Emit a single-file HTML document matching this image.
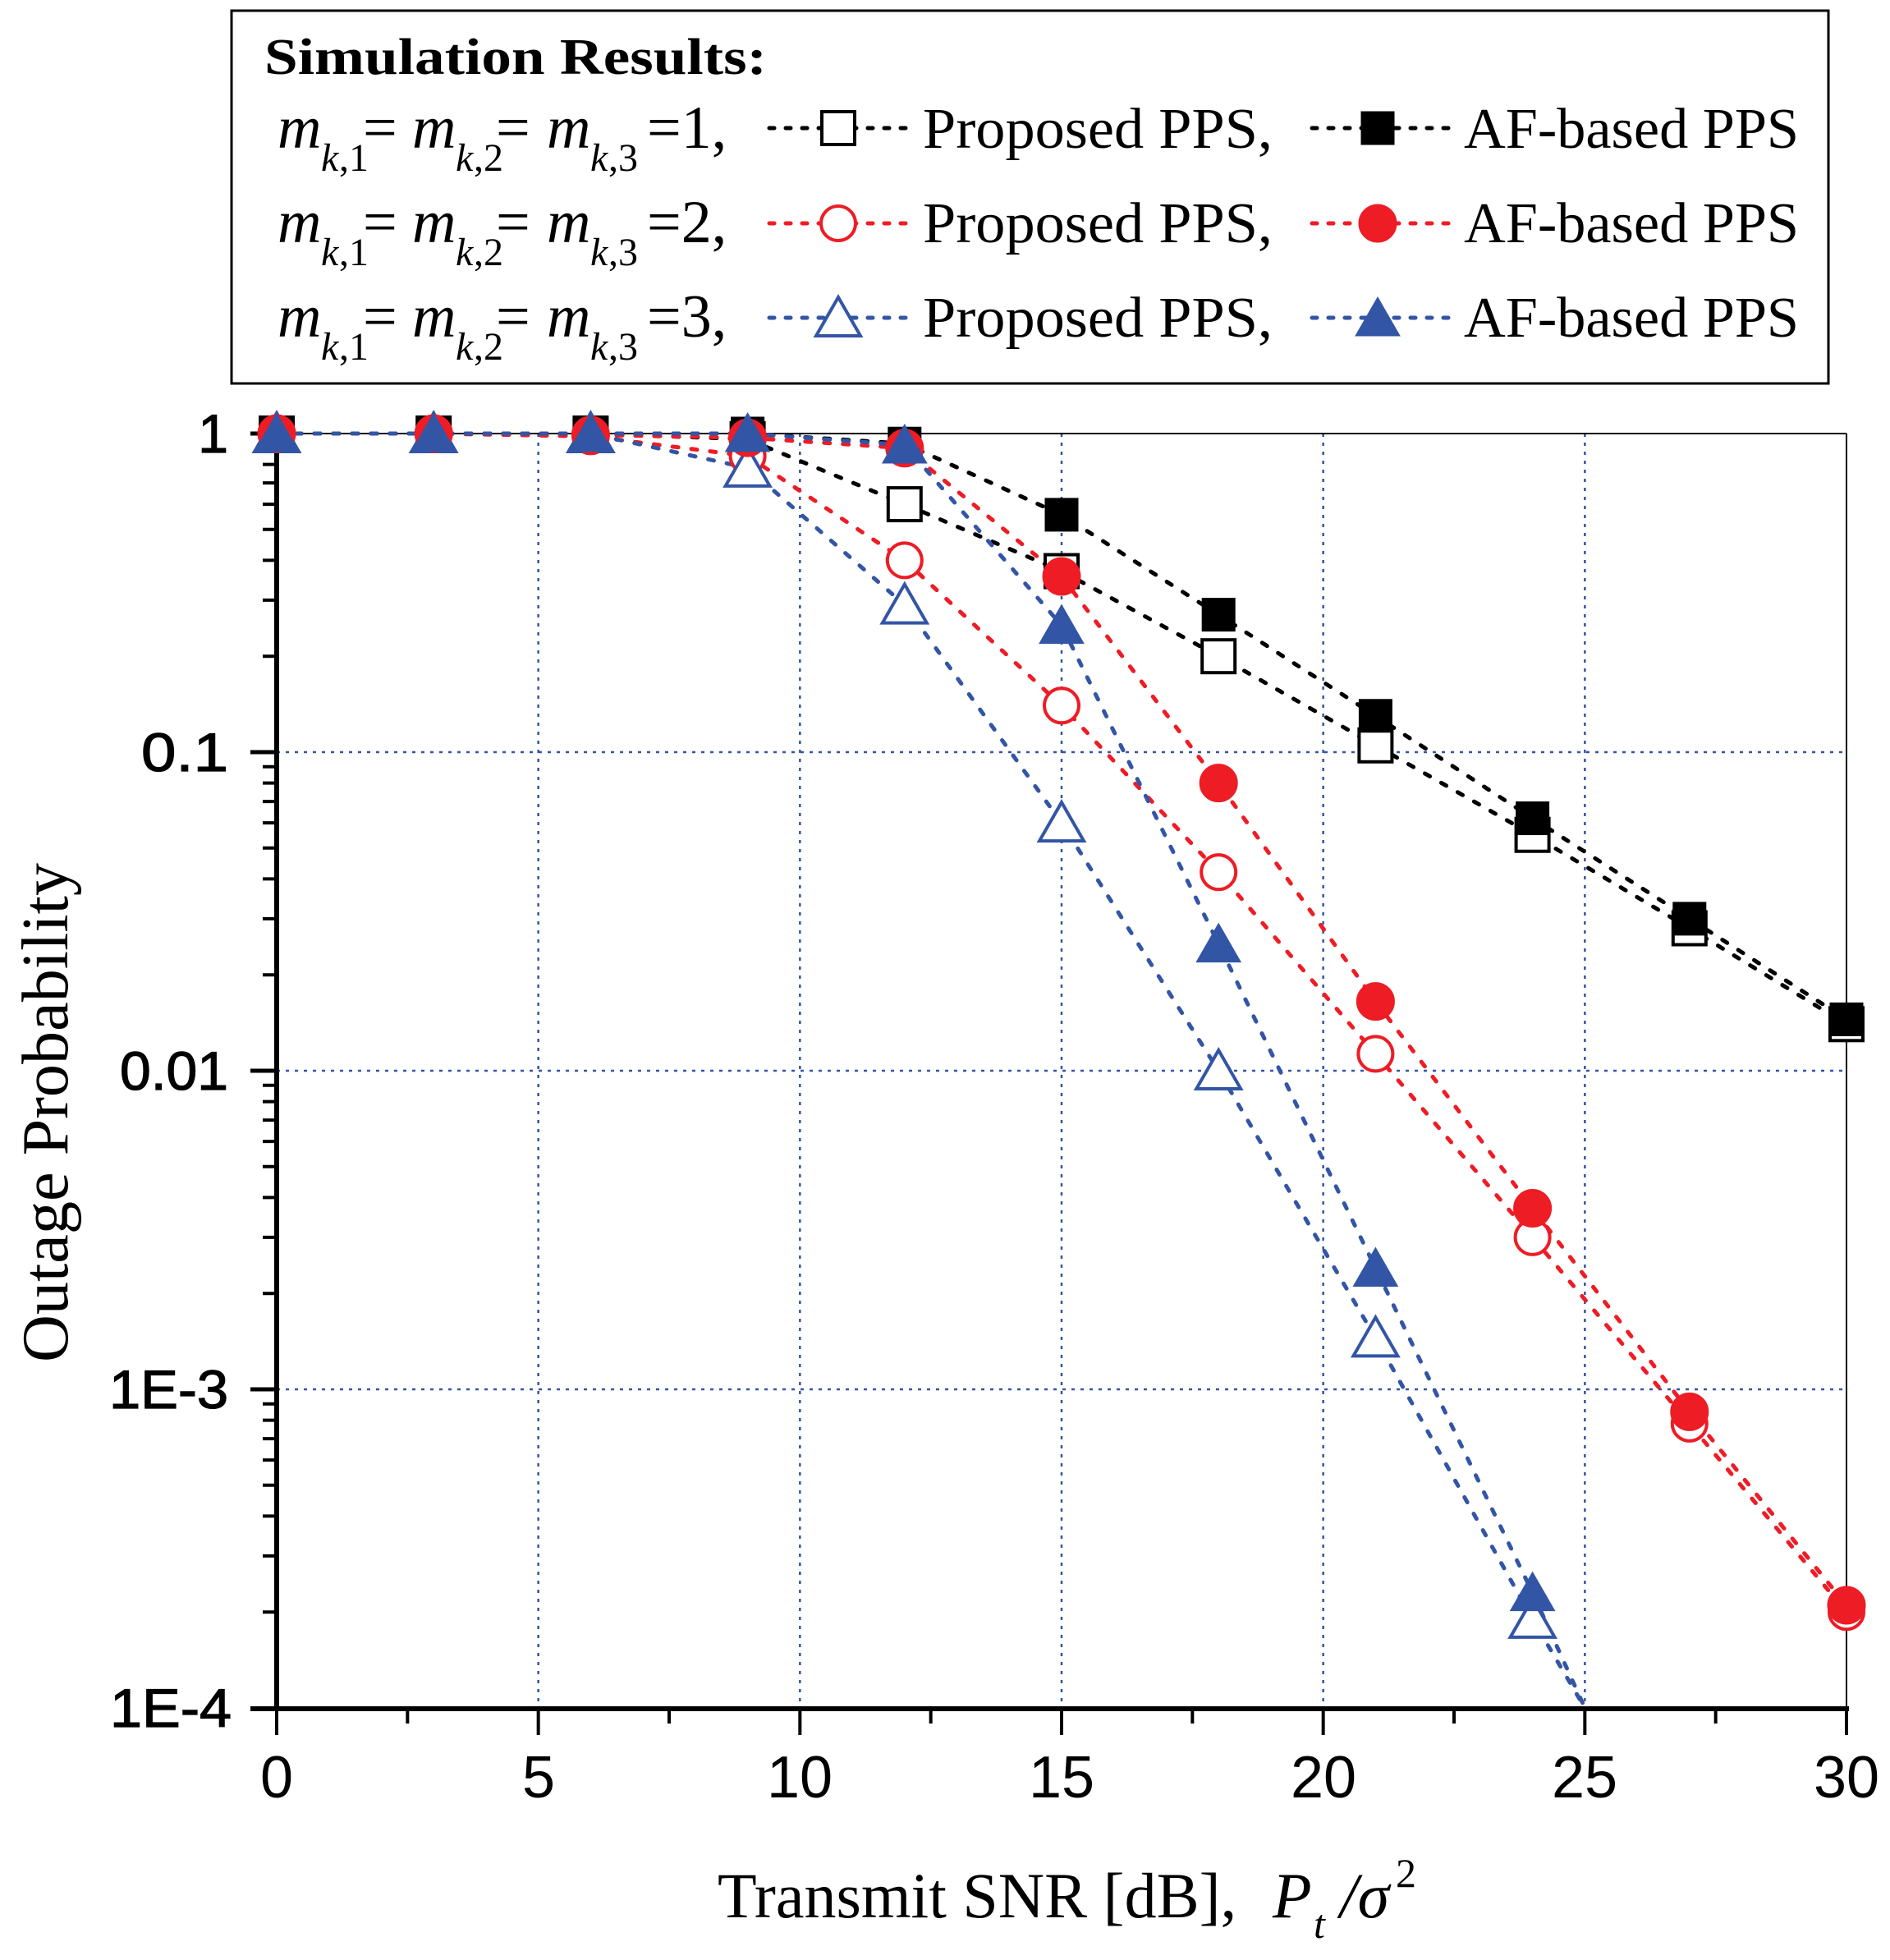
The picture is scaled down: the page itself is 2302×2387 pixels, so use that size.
<!DOCTYPE html>
<html><head><meta charset="utf-8"><style>html,body{margin:0;padding:0;background:#fff}svg{display:block}</style></head>
<body>
<svg id="s" xmlns="http://www.w3.org/2000/svg" width="2302" height="2387" viewBox="0 0 2302 2387">
<rect width="2302" height="2387" fill="#fff"/>
<g id="grid"></g>
<g id="axes"></g>
<g id="series"></g>
<g font-family="'Liberation Sans',Arial,sans-serif" font-size="66" fill="#000" stroke="#000" stroke-width="1.2" text-anchor="end">
<text x="278" y="551">1</text>
<text x="278" y="939" textLength="106" lengthAdjust="spacingAndGlyphs">0.1</text>
<text x="278" y="1327" textLength="132" lengthAdjust="spacingAndGlyphs">0.01</text>
<text x="278" y="1715" textLength="145" lengthAdjust="spacingAndGlyphs">1E-3</text>
<text x="282" y="2103" textLength="148" lengthAdjust="spacingAndGlyphs">1E-4</text>
</g>
<g font-family="'Liberation Sans',Arial,sans-serif" font-size="72" fill="#000" text-anchor="middle">
<text x="337" y="2189">0</text>
<text x="656" y="2189">5</text>
<text x="974" y="2189">10</text>
<text x="1293" y="2189">15</text>
<text x="1612" y="2189">20</text>
<text x="1930" y="2189">25</text>
<text x="2249" y="2189">30</text>
</g>
<g font-family="'Liberation Serif','Times New Roman',serif" fill="#000">
<text x="874" y="2335" font-size="78">Transmit SNR [dB],</text>
<text x="1550" y="2335" font-size="78" font-style="italic">P</text>
<text x="1600" y="2360" font-size="50" font-style="italic">t</text>
<text x="1632" y="2335" font-size="78" font-style="italic">/σ</text>
<text x="1700" y="2298" font-size="50">2</text>
<text transform="translate(82,1355) rotate(-90)" text-anchor="middle" font-size="80" textLength="608" lengthAdjust="spacingAndGlyphs">Outage Probability</text>
</g>
<!-- legend -->
<rect x="282" y="13" width="1945" height="454" fill="none" stroke="#000" stroke-width="3"/>
<g font-family="'Liberation Serif','Times New Roman',serif" fill="#000">
<text x="322" y="90" font-size="62" font-weight="bold" textLength="612" lengthAdjust="spacingAndGlyphs">Simulation Results:</text>
<g id="legrows"></g>
</g>
<script>
const NS="http://www.w3.org/2000/svg";
function el(tag,attrs,parent){const e=document.createElementNS(NS,tag);for(const k in attrs)e.setAttribute(k,attrs[k]);parent.appendChild(e);return e;}
const X=d=>337+d*63.733, Y=p=>528-Math.log10(p)*388;
const grid=document.getElementById('grid'),axes=document.getElementById('axes'),ser=document.getElementById('series'),leg=document.getElementById('legrows');
const BL='#3355a5',RD='#ee1c25',BK='#000';
[5,10,15,20,25].forEach(d=>el('line',{x1:X(d),x2:X(d),y1:528,y2:2080,stroke:BL,'stroke-width':2.5,'stroke-dasharray':'4 7'},grid));
[0.1,0.01,0.001].forEach(p=>el('line',{x1:337,x2:2249,y1:Y(p),y2:Y(p),stroke:BL,'stroke-width':2.5,'stroke-dasharray':'4 7'},grid));
el('line',{x1:337,x2:2249,y1:528,y2:528,stroke:BK,'stroke-width':2},axes);
el('line',{x1:2249,x2:2249,y1:528,y2:2080,stroke:BK,'stroke-width':2},axes);
el('line',{x1:337,x2:337,y1:526,y2:2083,stroke:BK,'stroke-width':6},axes);
el('line',{x1:305,x2:2252,y1:2081,y2:2081,stroke:BK,'stroke-width':6},axes);
for(let dec=0;dec<4;dec++){const base=Math.pow(10,-dec);
 el('line',{x1:305,x2:337,y1:Y(base),y2:Y(base),stroke:BK,'stroke-width':5},axes);
 for(let m=2;m<=9;m++){const y=Y(base*m/10);el('line',{x1:320,x2:337,y1:y,y2:y,stroke:BK,'stroke-width':4},axes);}
}
for(let d=0;d<=30;d+=2.5){const maj=(d%5===0);el('line',{x1:X(d),x2:X(d),y1:2081,y2:maj?2113:2099,stroke:BK,'stroke-width':4},axes);}
const xs=[0,3,6,9,12,15,18,21,24,27,30];
const S=[
 {c:BK,m:'sq',f:false,v:[1,1,1,0.96,0.6,0.37,0.2,0.105,0.055,0.028,0.014]},
 {c:BK,m:'sq',f:true,v:[1,1,1,1,0.93,0.556,0.27,0.13,0.062,0.03,0.0145]},
 {c:RD,m:'ci',f:false,v:[1,1,0.98,0.85,0.4,0.14,0.042,0.0113,0.003,0.00078,0.0002]},
 {c:RD,m:'ci',f:true,v:[1,1,0.99,0.97,0.9,0.356,0.08,0.0165,0.0037,0.00085,0.00021]},
 {c:BL,m:'tr',f:false,v:[1,1,1,0.78,0.29,0.06,0.01,0.00145,0.00019],ext:[25,0.0001]},
 {c:BL,m:'tr',f:true,v:[1,1,1,1,0.92,0.25,0.025,0.0024,0.00023],ext:[25,0.0001]}
];
function marker(g,m,f,c,cx,cy){
 const st=f?{fill:c,stroke:c,'stroke-width':1}:{fill:'#fff',stroke:c,'stroke-width':4};
 if(m==='sq')el('rect',Object.assign({x:cx-20,y:cy-20,width:40,height:40},st),g);
 else if(m==='ci')el('circle',Object.assign({cx:cx,cy:cy,r:f?23:21},st),g);
 else el('polygon',Object.assign({points:`${cx},${cy-25} ${cx+27},${cy+22} ${cx-27},${cy+22}`},st),g);
}
const lineG=el('g',{},ser),markG=el('g',{},ser);
S.forEach(s=>{let pts=s.v.map((p,i)=>X(xs[i])+','+Y(p));if(s.ext)pts.push(X(s.ext[0])+','+Y(s.ext[1]));
 el('polyline',{points:pts.join(' '),fill:'none',stroke:s.c,'stroke-width':5,'stroke-dasharray':'7 16','stroke-linecap':'round'},lineG);});
[0,2,4,1,3,5].forEach(k=>{const s=S[k];s.v.forEach((p,i)=>marker(markG,s.m,s.f,s.c,X(xs[i]),Y(p)));});
const rows=[{y:180,n:'1',c:BK,m:'sq',cy:156},{y:295,n:'2',c:RD,m:'ci',cy:272},{y:410,n:'3',c:BL,m:'tr',cy:387}];
rows.forEach(r=>{
 const t=(x,y,txt,sz,it)=>{const e=el('text',{x:x,y:y,'font-size':sz},leg);if(it)e.setAttribute('font-style','italic');e.textContent=txt;return e;};
 t(338,r.y,'m',74,true);t(391,r.y+28,'k',48,true);t(413,r.y+28,',1',48,false);
 t(442,r.y,'=',74,false);
 t(502,r.y,'m',74,true);t(555,r.y+28,'k',48,true);t(577,r.y+28,',2',48,false);
 t(604,r.y,'=',74,false);
 t(666,r.y,'m',74,true);t(719,r.y+28,'k',48,true);t(741,r.y+28,',3',48,false);
 t(788,r.y,'='+r.n+',',74,false);
 const e1=t(1124,r.y,'Proposed PPS,',70,false);e1.setAttribute('textLength',426);e1.setAttribute('lengthAdjust','spacingAndGlyphs');
 const e2=t(1783,r.y,'AF-based PPS',70,false);e2.setAttribute('textLength',408);e2.setAttribute('lengthAdjust','spacingAndGlyphs');
 [[937,1103,1021,false],[1598,1766,1678,true]].forEach(([a,b,cx,f])=>{
  el('line',{x1:a,x2:b,y1:r.cy,y2:r.cy,stroke:r.c,'stroke-width':5,'stroke-dasharray':'6 14','stroke-linecap':'round'},leg);
  marker(leg,r.m,f,r.c,cx,r.cy);
 });
});
</script>
</svg>
</body></html>
